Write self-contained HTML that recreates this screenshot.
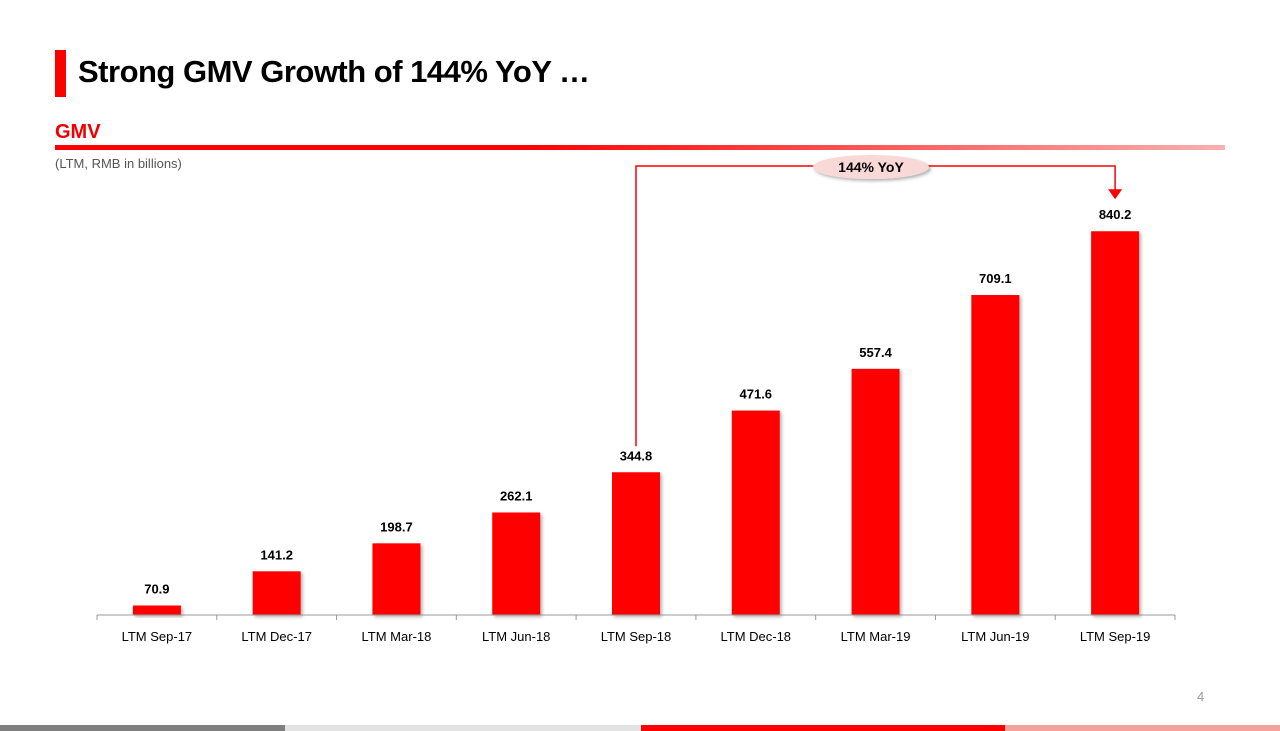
<!DOCTYPE html>
<html><head><meta charset="utf-8"><style>
body{margin:0;width:1280px;height:731px;background:#fff;overflow:hidden;font-family:"Liberation Sans",sans-serif;position:relative}
</style></head><body>
<div style="position:absolute;left:55px;top:50px;width:11px;height:47px;background:#f00"></div>
<div style="position:absolute;left:78px;top:54px;font-size:31px;font-weight:bold;color:#000;letter-spacing:-0.5px">Strong GMV Growth of 144% YoY …</div>
<div style="position:absolute;left:55px;top:121px;font-size:20px;font-weight:bold;color:#e00">GMV</div>
<div style="position:absolute;left:55px;top:145px;width:1170px;height:5px;background:linear-gradient(to right,#f00,#f00 40%,#f8b0b0)"></div>
<div style="position:absolute;left:55px;top:156px;font-size:13px;color:#555">(LTM, RMB in billions)</div>
<div style="position:absolute;left:1197px;top:689px;font-size:13px;color:#999">4</div>
<div style="position:absolute;left:0;top:725px;width:285px;height:6px;background:#7f7f7f"></div>
<div style="position:absolute;left:285px;top:725px;width:356px;height:6px;background:#e3e3e3"></div>
<div style="position:absolute;left:641px;top:725px;width:364px;height:6px;background:#f00"></div>
<div style="position:absolute;left:1005px;top:725px;width:275px;height:6px;background:#f4a39c"></div>
<svg id="chart" width="1280" height="731" style="position:absolute;left:0;top:0">
<defs><filter id="sh" x="-20%" y="-20%" width="150%" height="150%"><feDropShadow dx="2" dy="2" stdDeviation="1.5" flood-color="#000" flood-opacity="0.3"/></filter></defs>
</svg>
<script>
const categories=["LTM Sep-17","LTM Dec-17","LTM Mar-18","LTM Jun-18","LTM Sep-18","LTM Dec-18","LTM Mar-19","LTM Jun-19","LTM Sep-19"];
const values=[70.9,141.2,198.7,262.1,344.8,471.6,557.4,709.1,840.2];
const labels=["70.9","141.2","198.7","262.1","344.8","471.6","557.4","709.1","840.2"];
const NS="http://www.w3.org/2000/svg";
const svg=document.getElementById('chart');
const x0=97,x1=1175,axisY=615,zeroY=640,scale=0.4865;
const bw=(x1-x0)/categories.length;
const xc=i=>x0+bw*(i+0.5);
const y=v=>zeroY-v*scale;
function mk(t,a){const e=document.createElementNS(NS,t);for(const k in a)e.setAttribute(k,a[k]);svg.appendChild(e);return e;}
values.forEach((v,i)=>{
 const top=y(v);
 const r=mk('rect',{x:xc(i)-24,y:top,width:48,height:axisY-top,fill:'#ff0000',filter:'url(#sh)'});
 
 
 const t=mk('text',{x:xc(i),y:top-12,'text-anchor':'middle','font-size':'13','font-weight':'bold',fill:'#000'});
 t.textContent=labels[i];
 
 
 const c=mk('text',{x:xc(i),y:axisY+26,'text-anchor':'middle','font-size':'13',fill:'#000'});
 c.textContent=categories[i];
 
 
});
const ax=mk('line',{x1:x0,y1:axisY,x2:x1,y2:axisY,stroke:'#999','stroke-width':1});


for(let i=0;i<=categories.length;i++){
 const tk=mk('line',{x1:x0+bw*i,y1:axisY,x2:x0+bw*i,y2:axisY+5,stroke:'#999'});
 
 
}
// YoY bracket from bar index 4 to 8
const sI=4,eI=8,bY=166;
const br=mk('polyline',{points:`${xc(sI)},${y(values[sI])-26} ${xc(sI)},${bY} ${xc(eI)},${bY} ${xc(eI)},${y(values[eI])-38}`,fill:'none',stroke:'#f00','stroke-width':1.5});


const ar=mk('polygon',{points:`${xc(eI)-7},${y(values[eI])-42} ${xc(eI)+7},${y(values[eI])-42} ${xc(eI)},${y(values[eI])-32}`,fill:'#f00'});


const pill=mk('ellipse',{cx:871,cy:167,rx:58,ry:12,fill:'#f9d8d8',filter:'url(#sh)'});


const pt=mk('text',{x:871,y:172,'text-anchor':'middle','font-size':'14','font-weight':'bold',fill:'#000'});
pt.textContent='144% YoY';


</script>
</body></html>
